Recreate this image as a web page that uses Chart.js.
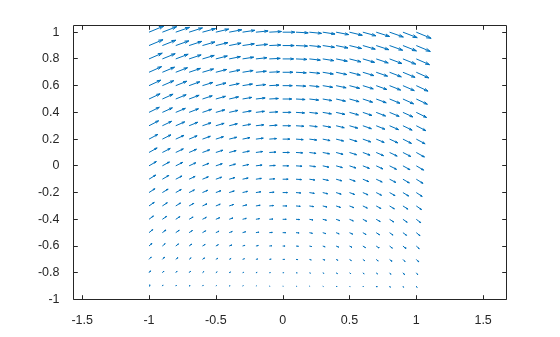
<!DOCTYPE html>
<html>
<head>
<meta charset="utf-8">
<script src="https://cdn.jsdelivr.net/npm/chart.js@4.4.1/dist/chart.umd.min.js"></script>
<style>
html,body{margin:0;padding:0;background:#ffffff;}
#wrap{width:560px;height:337px;position:relative;}
</style>
</head>
<body>
<div id="wrap"><canvas id="c"></canvas></div>
<script>
// Grid positions of the arrow tails
const xGrid = [-1,-0.9,-0.8,-0.7,-0.6,-0.5,-0.4,-0.3,-0.2,-0.1,0,0.1,0.2,0.3,0.4,0.5,0.6,0.7,0.8,0.9,1];
const yGrid = [-1,-0.9,-0.8,-0.7,-0.6,-0.5,-0.4,-0.3,-0.2,-0.1,0,0.1,0.2,0.3,0.4,0.5,0.6,0.7,0.8,0.9,1];

// Horizontal components (thousandths of an axis unit, as drawn), one row per yGrid value
const U = [
[0,0,0,0,0,0,0,0,0,0,0,0,0,0,0,0,0,0,0,0,0],
[6,5,5,5,5,5,5,5,5,5,5,5,5,5,5,5,5,5,5,5,6],
[11,11,10,10,10,10,9,9,9,9,9,9,9,9,9,10,10,10,10,11,11],
[17,16,16,15,15,14,14,14,14,14,14,14,14,14,14,14,15,15,16,16,17],
[22,21,21,20,20,19,19,18,18,18,18,18,18,18,19,19,20,20,21,21,22],
[28,27,26,25,24,24,23,23,23,23,23,23,23,23,23,24,24,25,26,27,28],
[33,32,31,30,29,29,28,28,27,27,27,27,27,28,28,29,29,30,31,32,33],
[39,37,36,35,34,33,33,32,32,32,32,32,32,32,33,33,34,35,36,37,39],
[44,43,41,40,39,38,38,37,37,36,36,36,37,37,38,38,39,40,41,43,44],
[50,48,47,45,44,43,42,42,41,41,41,41,41,42,42,43,44,45,47,48,50],
[55,53,52,50,49,48,47,46,46,45,45,45,46,46,47,48,49,50,52,53,55],
[61,59,57,55,54,53,52,51,50,50,50,50,50,51,52,53,54,55,57,59,61],
[66,64,62,60,59,57,56,55,55,54,54,54,55,55,56,57,59,60,62,64,66],
[72,69,67,65,64,62,61,60,59,59,59,59,59,60,61,62,64,65,67,69,72],
[77,75,72,70,68,67,66,65,64,64,63,64,64,65,66,67,68,70,72,75,77],
[83,80,78,75,73,72,70,69,69,68,68,68,69,69,70,72,73,75,78,80,83],
[88,85,83,80,78,76,75,74,73,73,72,73,73,74,75,76,78,80,83,85,88],
[94,91,88,85,83,81,80,79,78,77,77,77,78,79,80,81,83,85,88,91,94],
[99,96,93,90,88,86,84,83,82,82,82,82,82,83,84,86,88,90,93,96,99],
[105,101,98,95,93,91,89,88,87,86,86,86,87,88,89,91,93,95,98,101,105],
[111,107,103,100,98,96,94,92,91,91,91,91,91,92,94,96,98,100,103,107,111]
];

// Vertical components (thousandths of an axis unit, as drawn), one row per yGrid value
const V = [
[0,0,0,0,0,0,0,0,0,0,0,0,0,0,0,0,0,0,0,0,0],
[10,9,8,7,6,5,4,3,2,1,0,-1,-2,-3,-4,-5,-6,-7,-8,-9,-10],
[14,13,12,10,9,7,6,4,3,1,0,-1,-3,-4,-6,-7,-9,-10,-12,-13,-14],
[18,16,14,12,11,9,7,5,4,2,0,-2,-4,-5,-7,-9,-11,-12,-14,-16,-18],
[20,18,16,14,12,10,8,6,4,2,0,-2,-4,-6,-8,-10,-12,-14,-16,-18,-20],
[23,20,18,16,14,11,9,7,5,2,0,-2,-5,-7,-9,-11,-14,-16,-18,-20,-23],
[25,22,20,17,15,12,10,7,5,2,0,-2,-5,-7,-10,-12,-15,-17,-20,-22,-25],
[27,24,22,19,16,13,11,8,5,3,0,-3,-5,-8,-11,-13,-16,-19,-22,-24,-27],
[29,26,23,20,17,14,12,9,6,3,0,-3,-6,-9,-12,-14,-17,-20,-23,-26,-29],
[31,28,24,21,18,15,12,9,6,3,0,-3,-6,-9,-12,-15,-18,-21,-24,-28,-31],
[32,29,26,23,19,16,13,10,6,3,0,-3,-6,-10,-13,-16,-19,-23,-26,-29,-32],
[34,30,27,24,20,17,14,10,7,3,0,-3,-7,-10,-14,-17,-20,-24,-27,-30,-34],
[35,32,28,25,21,18,14,11,7,4,0,-4,-7,-11,-14,-18,-21,-25,-28,-32,-35],
[37,33,29,26,22,18,15,11,7,4,0,-4,-7,-11,-15,-18,-22,-26,-29,-33,-37],
[38,34,30,27,23,19,15,11,8,4,0,-4,-8,-11,-15,-19,-23,-27,-30,-34,-38],
[39,36,32,28,24,20,16,12,8,4,0,-4,-8,-12,-16,-20,-24,-28,-32,-36,-39],
[41,37,33,29,24,20,16,12,8,4,0,-4,-8,-12,-16,-20,-24,-29,-33,-37,-41],
[42,38,34,29,25,21,17,13,8,4,0,-4,-8,-13,-17,-21,-25,-29,-34,-38,-42],
[43,39,35,30,26,22,17,13,9,4,0,-4,-9,-13,-17,-22,-26,-30,-35,-39,-43],
[44,40,35,31,27,22,18,13,9,4,0,-4,-9,-13,-18,-22,-27,-31,-35,-40,-44],
[46,41,36,32,27,23,18,14,9,5,0,-5,-9,-14,-18,-23,-27,-32,-36,-41,-46]
];

const xTickValues = [-1.5,-1,-0.5,0,0.5,1,1.5];
const xTickLabels = ['-1.5','-1','-0.5','0','0.5','1','1.5'];
const yTickValues = [-1,-0.8,-0.6,-0.4,-0.2,0,0.2,0.4,0.6,0.8,1];
const yTickLabels = ['-1','-0.8','-0.6','-0.4','-0.2','0','0.2','0.4','0.6','0.8','1'];

const COMPONENT_UNIT = 0.001;
const HEAD_ALPHA = 0.3, HEAD_BETA = 0.3;
const GAP = {x: null, y: null};

const arrowPoints = [];
for (let j = 0; j < yGrid.length; j++) {
  for (let i = 0; i < xGrid.length; i++) {
    const u = U[j][i] * COMPONENT_UNIT;
    const v = V[j][i] * COMPONENT_UNIT;
    if (u === 0 && v === 0) continue;
    const x0 = xGrid[i], y0 = yGrid[j];
    const tx = x0 + u, ty = y0 + v;
    arrowPoints.push({x: x0, y: y0}, {x: tx, y: ty}, GAP);
    arrowPoints.push(
      {x: tx - HEAD_ALPHA * (u + HEAD_BETA * v), y: ty - HEAD_ALPHA * (v - HEAD_BETA * u)},
      {x: tx, y: ty},
      {x: tx - HEAD_ALPHA * (u - HEAD_BETA * v), y: ty - HEAD_ALPHA * (v + HEAD_BETA * u)},
      GAP
    );
  }
}

const AXIS_COLOR = '#262626';
const TICK_LEN = 4.3;

const boxPlugin = {
  id: 'matlabBox',
  afterDraw(chart) {
    const {ctx, chartArea: a, scales} = chart;
    ctx.save();
    ctx.strokeStyle = AXIS_COLOR;
    ctx.lineWidth = 1;
    ctx.beginPath();
    ctx.rect(a.left, a.top, a.right - a.left, a.bottom - a.top);
    ctx.stroke();
    ctx.beginPath();
    scales.x.ticks.forEach(t => {
      const px = Math.round(scales.x.getPixelForValue(t.value)) + 0.5;
      ctx.moveTo(px, a.bottom); ctx.lineTo(px, a.bottom - TICK_LEN);
      ctx.moveTo(px, a.top); ctx.lineTo(px, a.top + TICK_LEN);
    });
    scales.y.ticks.forEach(t => {
      const py = Math.round(scales.y.getPixelForValue(t.value) - 0.5) + 0.5;
      ctx.moveTo(a.left, py); ctx.lineTo(a.left + TICK_LEN, py);
      ctx.moveTo(a.right, py); ctx.lineTo(a.right - TICK_LEN, py);
    });
    ctx.stroke();
    ctx.restore();
  }
};

const tickFont = {family: '"Liberation Sans", Arial, sans-serif', size: 12.5};

new Chart(document.getElementById('c'), {
  type: 'scatter',
  data: {
    datasets: [{
      data: arrowPoints,
      showLine: true,
      spanGaps: false,
      borderColor: '#0072BD',
      borderWidth: 1,
      pointRadius: 0,
      pointHoverRadius: 0,
      fill: false
    }]
  },
  options: {
    responsive: true,
    maintainAspectRatio: false,
    devicePixelRatio: 1,
    animation: false,
    events: [],
    layout: {padding: {left: 0, right: 53.5, top: 25.5, bottom: 0}},
    plugins: {legend: {display: false}, tooltip: {enabled: false}},
    scales: {
      x: {
        type: 'linear',
        min: -1.565,
        max: 1.675,
        grid: {display: false},
        border: {display: false},
        afterBuildTicks: s => { s.ticks = xTickValues.map(v => ({value: v})); },
        afterFit: s => { s.height = 37.5; },
        ticks: {
          color: AXIS_COLOR,
          font: tickFont,
          padding: 6,
          maxRotation: 0,
          autoSkip: false,
          callback: (val) => { const k = xTickValues.indexOf(val); return k >= 0 ? xTickLabels[k] : ''; }
        }
      },
      y: {
        type: 'linear',
        min: -1,
        max: 1.05,
        grid: {display: false},
        border: {display: false},
        afterBuildTicks: s => { s.ticks = yTickValues.map(v => ({value: v})); },
        afterFit: s => { s.width = 73.5; },
        ticks: {
          color: AXIS_COLOR,
          font: tickFont,
          padding: 6,
          autoSkip: false,
          callback: (val) => { const k = yTickValues.indexOf(val); return k >= 0 ? yTickLabels[k] : ''; }
        }
      }
    }
  },
  plugins: [boxPlugin]
});
</script>
</body>
</html>
